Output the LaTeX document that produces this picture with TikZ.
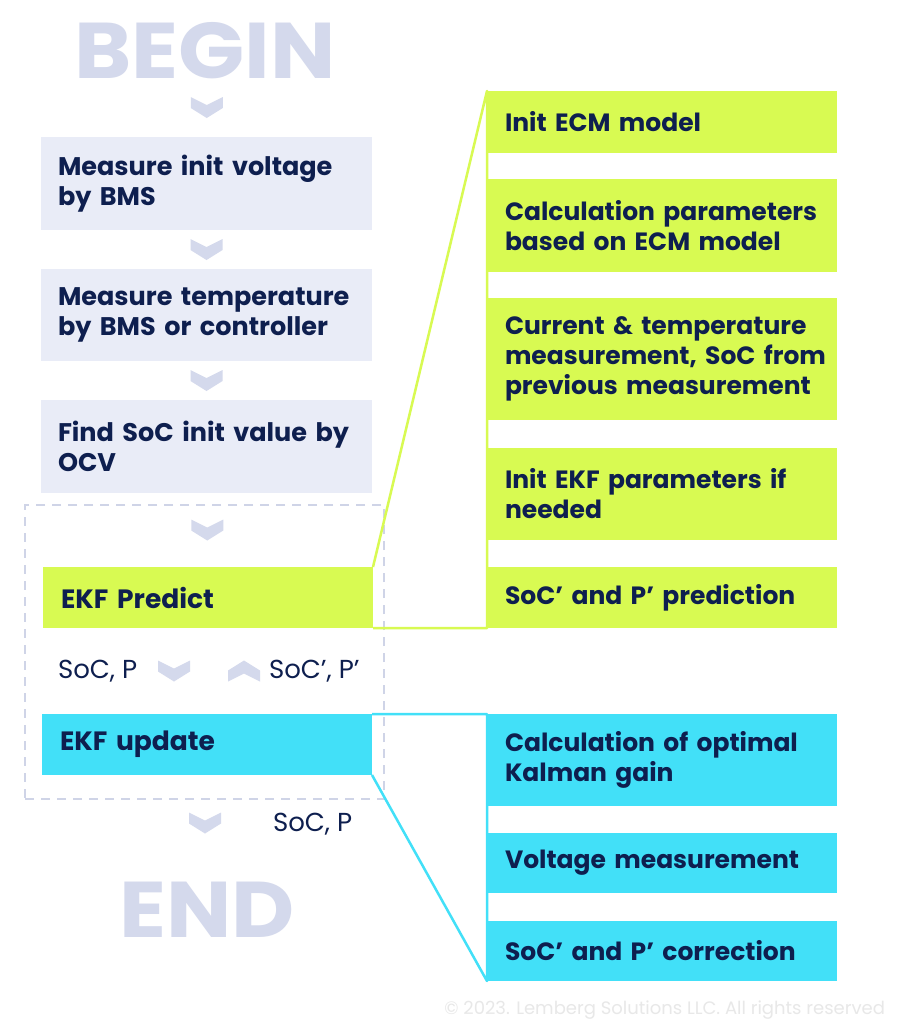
\documentclass[tikz,border=0pt]{standalone}
\usepackage{fontspec}
\setmainfont{Poppins}
\usetikzlibrary{calc}
\definecolor{boxgray}{HTML}{E9ECF7}
\definecolor{lav}{HTML}{D4D9EC}
\definecolor{dashc}{HTML}{CFD4E7}
\definecolor{lime}{HTML}{D8FA52}
\definecolor{cyanb}{HTML}{42E0F8}
\definecolor{navy}{HTML}{0E1F4F}
\definecolor{copyc}{HTML}{E8E8E8}
\newcommand\lbxfont{\fontsize{25.5}{30}\selectfont\bfseries}
\newcommand\rbxfont{\fontsize{25}{30}\selectfont\bfseries}
\newcommand\ekffont{\fontsize{26.5}{30}\selectfont\bfseries}
\newcommand\rgfont{\fontsize{26}{30}\selectfont}
\newcommand\hugefont{\fontsize{79}{79}\selectfont\bfseries}
\tikzset{
  every node/.style={inner sep=0pt, outer sep=0pt},
  leftbox/.style={fill=boxgray, text=navy, font=\lbxfont, align=left,
    text width=297pt, inner xsep=17pt, inner ysep=0pt, anchor=north west,
    minimum height=#1},
  greenbox/.style={fill=lime, text=navy, font=\rbxfont, align=left,
    text width=314pt, inner xsep=18pt, inner ysep=0pt, anchor=north west,
    minimum height=#1},
  cyanbox/.style={fill=cyanb, text=navy, font=\rbxfont, align=left,
    text width=314pt, inner xsep=18pt, inner ysep=0pt, anchor=north west,
    minimum height=#1},
  ekfbox/.style={fill=#1, text=navy, font=\ekffont, align=left,
    text width=294pt, inner xsep=18pt, inner ysep=0pt, anchor=north west,
    minimum height=61pt},
  plain/.style={text=navy, font=\rgfont, anchor=west},
  bigword/.style={text=lav, font=\hugefont, anchor=base},
  chevdown/.pic={\fill[lav] (-16,-10.5) -- (0,-2.5) -- (16,-10.5) -- (16,0.5) -- (0,10.5) -- (-16,0.5) -- cycle;},
  chevup/.pic={\fill[lav] (-16,10.5) -- (0,2.5) -- (16,10.5) -- (16,-0.5) -- (0,-10.5) -- (-16,-0.5) -- cycle;},
  zoomline/.style={line width=2.5pt, draw=#1, line join=round}
}
\begin{document}
\begin{tikzpicture}[x=1pt,y=-1pt]
\useasboundingbox[fill=white] (0,0) rectangle (911,1034);

% dashed loop frame
\node[draw=dashc, line width=2pt, dash pattern=on 9pt off 7pt, anchor=north west,
  minimum width=359pt, minimum height=294pt] (loop) at (25,505) {};

% begin / end
\node[bigword] (begin) at (205,78) {\scalebox{1.1}[1]{BEGIN}};
\node[bigword] (end) at (207,937) {\scalebox{1.1}[1]{END}};

% left column
\node[leftbox=93pt] (m1) at (41,137) {Measure init voltage\\by BMS};
\node[leftbox=92pt] (m2) at (41,269) {Measure temperature\\by BMS or controller};
\node[leftbox=93pt] (m3) at (41,400) {Find SoC init value by\\OCV};
\node[ekfbox=lime] (pred) at (43,567) {EKF Predict};
\node[ekfbox=cyanb] (upd) at (42,714) {EKF update};

% chevrons
\pic at ($(begin.base)!0.5!(m1.north)+(1,0)$) {chevdown};
\pic at ($(m1.south)!0.5!(m2.north)$) {chevdown};
\pic at ($(m2.south)!0.5!(m3.north)$) {chevdown};
\pic at ($(m3.south)!0.5!(pred.north)$) {chevdown};
\pic at (174,671) {chevdown};
\pic at (244,671) {chevup};
\pic at (205,823) {chevdown};

% labels
\node[plain] (l1) at (58,671) {SoC, P};
\node[plain] (l2) at (269,671) {SoC’, P’};
\node[plain] (l3) at (273,824) {SoC, P};

% right green column
\node[greenbox=62pt] (r1) at (487,91) {Init ECM model};
\node[greenbox=93pt] (r2) at (487,179) {Calculation~parameters\\based on ECM model};
\node[greenbox=122pt] (r3) at (487,298) {Current \& temperature\\measurement,~SoC~from\\previous~measurement};
\node[greenbox=92pt] (r4) at (487,448) {Init EKF parameters if\\needed};
\node[greenbox=61pt] (r5) at (487,567) {SoC’ and P’ prediction};

% right cyan column
\node[cyanbox=92pt] (c1) at (487,714) {Calculation~of~optimal\\Kalman gain};
\node[cyanbox=60pt] (c2) at (487,833) {Voltage measurement};
\node[cyanbox=60pt] (c3) at (487,921) {SoC’ and P’ correction};

% zoom connectors
\draw[zoomline=lime] (pred.north east) -- (r1.north west) -- (r5.south west) -- (pred.south east);
\draw[zoomline=cyanb] (upd.north east) -- (c1.north west) -- (c3.south west) -- (upd.south east);

% copyright
\node[anchor=east, font=\fontsize{18}{18}\selectfont, text=copyc] (copy) at (885,1010)
  {© 2023. Lemberg Solutions LLC. All rights reserved};
\end{tikzpicture}
\end{document}
